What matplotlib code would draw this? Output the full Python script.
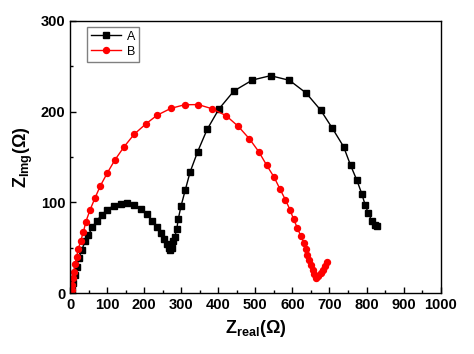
import matplotlib
matplotlib.use("Agg")
import matplotlib.pyplot as plt
from matplotlib.ticker import MultipleLocator

plt.rcParams['font.family'] = ['Liberation Sans', 'DejaVu Sans']
plt.rcParams['mathtext.fontset'] = 'custom'
plt.rcParams['mathtext.rm'] = 'Liberation Sans'
plt.rcParams['mathtext.bf'] = 'Liberation Sans:bold'

# impedance data
a_real = [6, 9, 13.5, 18, 24, 31.5, 40.5, 49.5, 60, 72.5, 86, 100, 118, 137, 155,
          173, 191, 207, 221, 234, 245, 254, 261, 266, 270, 274, 278.5, 282.5, 288,
          292, 299.5, 311, 324, 344.5, 370, 402, 442, 492, 541, 592, 637, 676, 708,
          738, 757, 774, 787, 796, 805, 814, 822, 829]
a_img = [3.5, 11, 20, 29, 38.5, 47.5, 57, 64, 72.6, 80, 86.5, 92, 96.5, 98.5, 99,
         97, 92.5, 87.5, 80, 73, 66, 59.5, 54, 50, 48, 50, 57, 62, 70.5,
         81.7, 96, 113.7, 133.5, 156, 180.4, 203, 222.6, 234.7, 239.5, 234.4, 220.4, 201.7, 181.5,
         161.4, 140.8, 124.3, 109.7, 97.6, 88, 80, 75.2, 74]

b_real = [5.4, 6.3, 8.1, 10.8, 13.5, 18, 22.5, 28.8, 36, 43, 54, 67, 82, 101, 121,
          146, 173, 204, 235, 272, 309, 346, 384, 421, 454, 484, 509, 530.5, 551,
          566.5, 581, 593.5, 603, 613, 622, 630.5, 636.5, 640, 645.5, 649, 655, 659,
          664, 670, 676, 681.5, 688, 693]
b_img = [3.6, 9.1, 16.5, 23.8, 32, 40.4, 48.9, 57.7, 67.3, 79, 91.7, 104.5, 118.4, 132.7, 146.7,
         161.3, 175, 186.2, 196, 203.5, 207.5, 207.7, 203, 195.5, 183.7, 170, 156, 141, 127.5,
         114.7, 103, 92, 81.6, 72.4, 63.5, 55.8, 48.5, 42.2, 36.7, 31.2, 25.7, 21,
         16.5, 19, 22, 25.7, 30, 34.4]

fig = plt.figure(figsize=(4.74, 3.54), dpi=100)
ax = fig.add_axes([0.1477, 0.1715, 0.782, 0.77])

ax.plot(a_real, a_img, color='black', marker='s', markersize=4.3, linewidth=1, label='A')
ax.plot(b_real, b_img, color='red', marker='o', markersize=4.3, linewidth=1, label='B')

ax.set_xlim(0, 1000)
ax.set_ylim(0, 300)
ax.xaxis.set_major_locator(MultipleLocator(100))
ax.xaxis.set_minor_locator(MultipleLocator(50))
ax.yaxis.set_major_locator(MultipleLocator(100))
ax.yaxis.set_minor_locator(MultipleLocator(50))
ax.tick_params(which='both', direction='in', top=False, right=False)
ax.tick_params(which='major', length=4, width=1)
ax.tick_params(which='minor', length=2.5, width=1)
for lbl in ax.get_xticklabels() + ax.get_yticklabels():
    lbl.set_fontweight('bold')
    lbl.set_fontsize(10.5)
for s in ax.spines.values():
    s.set_linewidth(1)

ax.set_xlabel(r'$\mathbf{Z_{real}(\Omega)}$', fontsize=13, labelpad=4)
ax.set_ylabel(r'$\mathbf{Z_{Img}(\Omega)}$', fontsize=13, labelpad=4)

leg = ax.legend(loc='upper left', bbox_to_anchor=(0.046, 0.977), borderaxespad=0,
                fontsize=9, fancybox=False, edgecolor='gray', framealpha=1,
                handlelength=2.4, handletextpad=0.5, borderpad=0.3, labelspacing=0.25)
leg.get_frame().set_linewidth(1)

fig.savefig('out.png', dpi=100)
